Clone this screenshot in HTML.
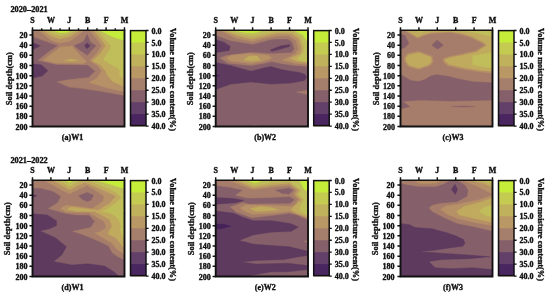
<!DOCTYPE html>
<html><head><meta charset="utf-8"><title>Soil moisture</title>
<style>html,body{margin:0;padding:0;background:#fff}body{width:550px;height:296px;overflow:hidden}svg{display:block}text{font-family:"Liberation Serif","Times New Roman",serif;font-weight:bold;fill:#111;stroke:#111;stroke-width:0.35px}</style></head><body>
<svg width="550" height="296" viewBox="0 0 550 296">
<rect width="550" height="296" fill="#fff"/>
<defs>
<clipPath id="cpa"><rect x="32.5" y="30.5" width="92.0" height="96"/></clipPath>
<clipPath id="cpb"><rect x="215.7" y="30.5" width="92.3" height="96"/></clipPath>
<clipPath id="cpc"><rect x="400.5" y="30.5" width="92.0" height="96"/></clipPath>
<clipPath id="cpd"><rect x="32.5" y="180.5" width="92.0" height="96"/></clipPath>
<clipPath id="cpe"><rect x="215.7" y="180.5" width="92.3" height="96"/></clipPath>
<clipPath id="cpf"><rect x="400.5" y="180.5" width="92.0" height="96"/></clipPath>
</defs>
<text x="10.4" y="11.8" font-size="8.3">2020–2021</text>
<text x="10.4" y="162.9" font-size="8.3">2021–2022</text>
<g clip-path="url(#cpa)">
<rect x="32.5" y="30.5" width="92.0" height="96" fill="#85606a"/>
<polygon points="32.5,30.5 32.5,36.3 42.6,40.3 58.1,45.5 47.2,53.0 38.0,60.3 56.4,64.4 87.8,64.9 95.3,71.2 88.4,77.6 66.0,80.1 57.0,81.8 69.0,87.1 82.7,88.6 101.0,91.3 124.5,95.5 124.5,30.5" fill="#a67c6a" stroke="#a67c6a" stroke-width="0.4"/>
<polygon points="38.6,30.5 51.3,40.2 60.0,43.2 70.0,41.0 79.0,34.5 84.0,30.5" fill="#b69066" stroke="#b69066" stroke-width="0.4"/>
<polygon points="89.5,30.5 96.0,38.0 101.6,45.8 97.0,53.0 89.5,60.8 97.5,65.5 101.5,71.2 97.0,78.0 89.0,82.6 106.5,87.7 124.5,91.9 124.5,30.5" fill="#b69066" stroke="#b69066" stroke-width="0.4"/>
<polygon points="60.5,47.0 72.0,46.0 79.0,54.0 86.5,61.5 84.0,63.4 56.5,63.2 43.0,60.2" fill="#b69066" stroke="#b69066" stroke-width="0.4"/>
<polygon points="42.6,30.5 52.0,36.5 60.0,39.0 70.0,36.5 79.4,30.5" fill="#c0aa5e" stroke="#c0aa5e" stroke-width="0.4"/>
<polygon points="93.6,30.5 100.0,38.0 105.6,45.8 100.0,54.0 92.5,60.9 100.4,64.9 106.0,71.5 106.5,74.0 112.0,81.3 124.5,86.8 124.5,30.5" fill="#c0aa5e" stroke="#c0aa5e" stroke-width="0.4"/>
<polygon points="64.3,60.3 71.0,59.0 78.5,60.3 71.0,61.6" fill="#c0aa5e" stroke="#c0aa5e" stroke-width="0.4"/>
<polygon points="46.0,30.5 54.0,34.0 60.0,35.8 68.0,34.0 76.5,30.5" fill="#bfbe5a" stroke="#bfbe5a" stroke-width="0.4"/>
<polygon points="97.0,30.5 104.0,38.0 110.8,45.8 109.6,50.0 103.5,59.8 109.6,63.8 116.5,67.2 120.0,70.7 119.4,75.8 124.5,78.1 124.5,30.5" fill="#bfbe5a" stroke="#bfbe5a" stroke-width="0.4"/>
<polygon points="53.0,30.5 60.0,32.7 66.0,32.4 71.0,30.5" fill="#c4ec3c" stroke="#c4ec3c" stroke-width="0.4"/>
<polygon points="100.4,30.5 111.9,36.6 124.5,40.5 124.5,30.5" fill="#c4ec3c" stroke="#c4ec3c" stroke-width="0.4"/>
<polygon points="87.2,34.3 90.5,42.0 96.1,45.8 91.0,51.0 87.4,55.3 81.0,51.0 74.3,45.8 83.5,41.5" fill="#85606a" stroke="#85606a" stroke-width="0.4"/>
<polygon points="87.2,42.9 90.1,45.8 87.2,48.7 84.3,45.8" fill="#5e3a5f" stroke="#5e3a5f" stroke-width="0.4"/>
<polygon points="32.5,42.4 32.5,49.8 40.3,45.8" fill="#5e3a5f" stroke="#5e3a5f" stroke-width="0.4"/>
<polygon points="32.5,63.8 41.5,64.9 47.8,70.7 42.6,75.8 32.5,78.1" fill="#5e3a5f" stroke="#5e3a5f" stroke-width="0.4"/>
</g>
<path d="M32.5 30.2 V126.5 H124.5 V30.2" fill="none" stroke="#111" stroke-width="1.9"/>
<path d="M31.7 30.2 H125.3" fill="none" stroke="#111" stroke-width="1.5"/>
<path d="M32.50 30.0V27.2M50.90 30.0V27.2M69.30 30.0V27.2M87.70 30.0V27.2M106.10 30.0V27.2M124.50 30.0V27.2M41.70 30.0V28.3M60.10 30.0V28.3M78.50 30.0V28.3M96.90 30.0V28.3M115.30 30.0V28.3M32.5 126.50H29.4M32.5 116.33H29.4M32.5 106.17H29.4M32.5 96.00H29.4M32.5 85.84H29.4M32.5 75.67H29.4M32.5 65.51H29.4M32.5 55.34H29.4M32.5 45.18H29.4M32.5 35.01H29.4" stroke="#111" stroke-width="1.45" fill="none"/>
<text x="32.5" y="23.1" font-size="8" text-anchor="middle">S</text>
<text x="50.9" y="23.1" font-size="8" text-anchor="middle">W</text>
<text x="69.3" y="23.1" font-size="8" text-anchor="middle">J</text>
<text x="87.7" y="23.1" font-size="8" text-anchor="middle">B</text>
<text x="106.1" y="23.1" font-size="8" text-anchor="middle">F</text>
<text x="124.5" y="23.1" font-size="8" text-anchor="middle">M</text>
<text x="27.5" y="129.5" font-size="8" text-anchor="end">200</text>
<text x="27.5" y="119.3" font-size="8" text-anchor="end">180</text>
<text x="27.5" y="109.2" font-size="8" text-anchor="end">160</text>
<text x="27.5" y="99.0" font-size="8" text-anchor="end">140</text>
<text x="27.5" y="88.8" font-size="8" text-anchor="end">120</text>
<text x="27.5" y="78.7" font-size="8" text-anchor="end">100</text>
<text x="27.5" y="68.5" font-size="8" text-anchor="end">80</text>
<text x="27.5" y="58.3" font-size="8" text-anchor="end">60</text>
<text x="27.5" y="48.2" font-size="8" text-anchor="end">40</text>
<text x="27.5" y="38.0" font-size="8" text-anchor="end">20</text>
<text transform="translate(12.4 78.7) rotate(-90)" font-size="8.3" letter-spacing="0.1" text-anchor="middle">Soil depth(cm)</text>
<text x="72.5" y="140.0" font-size="8" text-anchor="middle">(a)W1</text>
<rect x="130.5" y="30.5" width="15.5" height="95.6" fill="#c6ec3a"/>
<rect x="130.5" y="42.5" width="15.5" height="83.6" fill="#c3cc50"/>
<rect x="130.5" y="54.4" width="15.5" height="71.7" fill="#c0b25c"/>
<rect x="130.5" y="66.3" width="15.5" height="59.8" fill="#ba9866"/>
<rect x="130.5" y="78.3" width="15.5" height="47.8" fill="#a67e6c"/>
<rect x="130.5" y="90.2" width="15.5" height="35.8" fill="#85606a"/>
<rect x="130.5" y="102.2" width="15.5" height="23.9" fill="#62406a"/>
<rect x="130.5" y="114.1" width="15.5" height="12.0" fill="#4a2660"/>
<rect x="130.5" y="30.6" width="15.5" height="95" fill="none" stroke="#111" stroke-width="1.5"/>
<path d="M146.0 30.50h2.6M146.0 42.45h2.6M146.0 54.40h2.6M146.0 66.35h2.6M146.0 78.30h2.6M146.0 90.25h2.6M146.0 102.20h2.6M146.0 114.15h2.6M146.0 126.10h2.6" stroke="#111" stroke-width="1.3" fill="none"/>
<text x="151.5" y="33.5" font-size="8">0.0</text>
<text x="151.5" y="45.5" font-size="8">5.0</text>
<text x="151.5" y="57.4" font-size="8">10.0</text>
<text x="151.5" y="69.3" font-size="8">15.0</text>
<text x="151.5" y="81.3" font-size="8">20.0</text>
<text x="151.5" y="93.2" font-size="8">25.0</text>
<text x="151.5" y="105.2" font-size="8">30.0</text>
<text x="151.5" y="117.1" font-size="8">35.0</text>
<text x="151.5" y="129.1" font-size="8">40.0</text>
<text transform="translate(169.5 28.0) rotate(90)" font-size="8.3" textLength="103" lengthAdjust="spacingAndGlyphs">Volume moisture content(%)</text>
<g clip-path="url(#cpb)">
<rect x="215.7" y="30.5" width="92.3" height="96" fill="#85606a"/>
<polygon points="215.5,30.5 215.5,34.9 230.2,40.6 252.7,44.3 262.0,41.8 272.0,39.2 278.0,38.9 288.0,38.9 292.0,41.8 294.4,48.7 291.5,52.7 272.0,53.8 260.5,52.9 250.9,52.4 238.0,54.0 226.2,55.6 219.9,58.0 227.9,63.2 250.0,65.6 262.0,63.8 272.0,61.5 282.3,63.8 295.0,65.5 308.2,66.6 308.2,30.5" fill="#a67c6a" stroke="#a67c6a" stroke-width="0.4"/>
<polygon points="296.5,92.0 308.2,90.2 308.2,94.8" fill="#a67c6a" stroke="#a67c6a" stroke-width="0.4"/>
<polygon points="250.0,126.5 255.0,125.2 260.0,126.5" fill="#a67c6a" stroke="#a67c6a" stroke-width="0.4"/>
<polygon points="219.9,30.5 236.0,38.3 252.7,41.4 265.0,38.3 278.0,36.0 289.0,35.8 296.0,40.6 298.4,48.7 295.0,54.0 282.3,60.3 295.0,63.2 308.2,64.4 308.2,30.5" fill="#b69066" stroke="#b69066" stroke-width="0.4"/>
<polygon points="226.2,58.0 231.4,55.2 249.7,53.6 261.2,54.6 269.0,55.5 272.0,58.5 262.4,61.8 250.9,63.4 230.2,60.9" fill="#b69066" stroke="#b69066" stroke-width="0.4"/>
<polygon points="222.8,30.5 238.0,36.0 252.7,38.9 265.0,36.0 278.0,33.2 291.0,33.5 299.0,39.0 301.8,48.5 300.0,54.0 290.3,58.6 297.2,61.5 308.2,62.6 308.2,30.5" fill="#c0aa5e" stroke="#c0aa5e" stroke-width="0.4"/>
<polygon points="243.4,60.3 248.6,55.9 257.2,55.9 260.6,60.3 252.0,61.3" fill="#c0aa5e" stroke="#c0aa5e" stroke-width="0.4"/>
<polygon points="225.6,30.5 240.0,34.0 252.7,36.0 265.0,33.5 278.0,31.4 293.0,31.5 301.0,37.5 304.1,48.0 303.0,53.0 297.2,59.2 301.0,61.0 308.2,62.0 308.2,30.5" fill="#bfbe5a" stroke="#bfbe5a" stroke-width="0.4"/>
<polygon points="234.0,30.5 245.0,32.5 252.7,33.0 258.0,32.0 262.0,30.5" fill="#c4ec3c" stroke="#c4ec3c" stroke-width="0.4"/>
<polygon points="294.9,30.5 303.0,34.9 308.2,43.0 308.2,30.5" fill="#c4ec3c" stroke="#c4ec3c" stroke-width="0.4"/>
<polygon points="215.5,39.5 224.5,42.4 230.2,46.4 229.1,50.4 215.5,52.7" fill="#5e3a5f" stroke="#5e3a5f" stroke-width="0.4"/>
<polygon points="270.2,50.0 281.0,45.8 289.8,44.6 289.6,46.4 279.0,49.6 272.0,51.3" fill="#5e3a5f" stroke="#5e3a5f" stroke-width="0.4"/>
<polygon points="215.5,62.6 230.2,65.5 250.9,71.2 264.7,67.8 270.8,66.6 283.4,70.1 299.5,72.4 305.3,74.7 306.5,77.5 304.4,80.6 291.0,83.0 271.0,84.0 251.0,82.0 231.0,84.0 215.5,89.4" fill="#5e3a5f" stroke="#5e3a5f" stroke-width="0.4"/>
<polygon points="215.5,74.7 219.3,75.6 215.5,77.0" fill="#45225a" stroke="#45225a" stroke-width="0.4"/>
</g>
<path d="M215.7 30.2 V126.5 H308.0 V30.2" fill="none" stroke="#111" stroke-width="1.9"/>
<path d="M214.9 30.2 H308.8" fill="none" stroke="#111" stroke-width="1.5"/>
<path d="M215.70 30.0V27.2M234.16 30.0V27.2M252.62 30.0V27.2M271.08 30.0V27.2M289.54 30.0V27.2M308.00 30.0V27.2M215.7 126.50H212.6M215.7 116.33H212.6M215.7 106.17H212.6M215.7 96.00H212.6M215.7 85.84H212.6M215.7 75.67H212.6M215.7 65.51H212.6M215.7 55.34H212.6M215.7 45.18H212.6M215.7 35.01H212.6" stroke="#111" stroke-width="1.45" fill="none"/>
<text x="215.7" y="23.1" font-size="8" text-anchor="middle">S</text>
<text x="234.2" y="23.1" font-size="8" text-anchor="middle">W</text>
<text x="252.6" y="23.1" font-size="8" text-anchor="middle">J</text>
<text x="271.1" y="23.1" font-size="8" text-anchor="middle">B</text>
<text x="289.5" y="23.1" font-size="8" text-anchor="middle">F</text>
<text x="308.0" y="23.1" font-size="8" text-anchor="middle">M</text>
<text x="210.7" y="129.5" font-size="8" text-anchor="end">200</text>
<text x="210.7" y="119.3" font-size="8" text-anchor="end">180</text>
<text x="210.7" y="109.2" font-size="8" text-anchor="end">160</text>
<text x="210.7" y="99.0" font-size="8" text-anchor="end">140</text>
<text x="210.7" y="88.8" font-size="8" text-anchor="end">120</text>
<text x="210.7" y="78.7" font-size="8" text-anchor="end">100</text>
<text x="210.7" y="68.5" font-size="8" text-anchor="end">80</text>
<text x="210.7" y="58.3" font-size="8" text-anchor="end">60</text>
<text x="210.7" y="48.2" font-size="8" text-anchor="end">40</text>
<text x="210.7" y="38.0" font-size="8" text-anchor="end">20</text>
<text transform="translate(192.6 78.7) rotate(-90)" font-size="8.3" letter-spacing="0.1" text-anchor="middle">Soil depth(cm)</text>
<text x="265.2" y="140.0" font-size="8" text-anchor="middle">(b)W2</text>
<rect x="313.7" y="30.5" width="15.5" height="95.6" fill="#c6ec3a"/>
<rect x="313.7" y="42.5" width="15.5" height="83.6" fill="#c3cc50"/>
<rect x="313.7" y="54.4" width="15.5" height="71.7" fill="#c0b25c"/>
<rect x="313.7" y="66.3" width="15.5" height="59.8" fill="#ba9866"/>
<rect x="313.7" y="78.3" width="15.5" height="47.8" fill="#a67e6c"/>
<rect x="313.7" y="90.2" width="15.5" height="35.8" fill="#85606a"/>
<rect x="313.7" y="102.2" width="15.5" height="23.9" fill="#62406a"/>
<rect x="313.7" y="114.1" width="15.5" height="12.0" fill="#4a2660"/>
<rect x="313.7" y="30.6" width="15.5" height="95" fill="none" stroke="#111" stroke-width="1.5"/>
<path d="M329.2 30.50h2.6M329.2 42.45h2.6M329.2 54.40h2.6M329.2 66.35h2.6M329.2 78.30h2.6M329.2 90.25h2.6M329.2 102.20h2.6M329.2 114.15h2.6M329.2 126.10h2.6" stroke="#111" stroke-width="1.3" fill="none"/>
<text x="334.7" y="33.5" font-size="8">0.0</text>
<text x="334.7" y="45.5" font-size="8">5.0</text>
<text x="334.7" y="57.4" font-size="8">10.0</text>
<text x="334.7" y="69.3" font-size="8">15.0</text>
<text x="334.7" y="81.3" font-size="8">20.0</text>
<text x="334.7" y="93.2" font-size="8">25.0</text>
<text x="334.7" y="105.2" font-size="8">30.0</text>
<text x="334.7" y="117.1" font-size="8">35.0</text>
<text x="334.7" y="129.1" font-size="8">40.0</text>
<text transform="translate(352.7 28.0) rotate(90)" font-size="8.3" textLength="103" lengthAdjust="spacingAndGlyphs">Volume moisture content(%)</text>
<g clip-path="url(#cpc)">
<rect x="400.5" y="30.5" width="92.0" height="96" fill="#a67c6a"/>
<polygon points="400.5,33.7 404.9,35.5 408.9,43.5 404.9,47.5 400.5,49.2" fill="#85606a" stroke="#85606a" stroke-width="0.4"/>
<polygon points="431.9,45.2 437.0,40.1 443.4,45.2 437.6,49.2" fill="#85606a" stroke="#85606a" stroke-width="0.4"/>
<polygon points="400.5,74.7 404.9,77.0 410.6,80.4 418.7,81.6 425.6,79.3 431.3,75.8 437.0,74.7 448.5,76.4 460.0,79.2 472.6,81.7 492.5,82.8 492.5,100.1 450.7,101.0 419.7,100.1 400.5,101.4" fill="#85606a" stroke="#85606a" stroke-width="0.4"/>
<polygon points="400.5,101.0 404.0,102.5 409.7,106.5 400.5,108.9" fill="#85606a" stroke="#85606a" stroke-width="0.4"/>
<polygon points="451.7,106.5 463.0,105.9 475.4,106.5 463.0,107.1" fill="#85606a" stroke="#85606a" stroke-width="0.4"/>
<polygon points="400.5,124.8 408.0,126.5 400.5,126.5" fill="#85606a" stroke="#85606a" stroke-width="0.4"/>
<polygon points="404.5,30.5 417.5,38.6 424.4,35.6 431.3,33.4 450.0,32.6 460.4,34.6 470.5,37.6 482.8,43.5 484.8,45.3 475.6,50.9 460.4,54.3 450.2,56.2 443.2,58.4 443.0,61.2 447.0,65.6 462.7,69.2 479.9,72.0 492.5,73.2 492.5,30.5" fill="#b69066" stroke="#b69066" stroke-width="0.4"/>
<polygon points="404.3,57.5 407.6,53.6 418.7,51.3 432.3,56.3 433.1,61.8 429.8,65.8 418.7,69.6 408.1,66.4 404.8,61.8" fill="#b69066" stroke="#b69066" stroke-width="0.4"/>
<polygon points="406.5,30.5 417.5,37.0 424.4,34.2 431.3,32.2 451.0,31.6 461.5,33.2 471.5,36.2 484.5,42.8 486.8,45.3 476.5,52.0 461.0,55.6 451.0,57.4 445.2,59.2 445.2,60.9 448.8,64.3 462.7,67.4 479.9,70.2 492.5,71.4 492.5,30.5" fill="#c0aa5e" stroke="#c0aa5e" stroke-width="0.4"/>
<polygon points="406.0,57.6 408.6,54.9 418.7,52.8 430.9,57.1 431.5,61.4 428.7,64.6 418.7,68.0 409.2,65.2 406.4,61.4" fill="#c0aa5e" stroke="#c0aa5e" stroke-width="0.4"/>
<polygon points="415.2,30.5 421.0,32.3 426.7,30.5" fill="#bfbe5a" stroke="#bfbe5a" stroke-width="0.4"/>
<polygon points="463.0,30.5 480.7,34.1 492.5,36.7 492.5,30.5" fill="#bfbe5a" stroke="#bfbe5a" stroke-width="0.4"/>
<polygon points="472.3,55.7 492.5,52.6 492.5,68.4 472.8,64.9" fill="#bfbe5a" stroke="#bfbe5a" stroke-width="0.4"/>
</g>
<path d="M400.5 30.2 V126.5 H492.5 V30.2" fill="none" stroke="#111" stroke-width="1.9"/>
<path d="M399.7 30.2 H493.3" fill="none" stroke="#111" stroke-width="1.5"/>
<path d="M400.50 30.0V27.2M418.90 30.0V27.2M437.30 30.0V27.2M455.70 30.0V27.2M474.10 30.0V27.2M492.50 30.0V27.2M400.5 126.50H397.4M400.5 116.33H397.4M400.5 106.17H397.4M400.5 96.00H397.4M400.5 85.84H397.4M400.5 75.67H397.4M400.5 65.51H397.4M400.5 55.34H397.4M400.5 45.18H397.4M400.5 35.01H397.4" stroke="#111" stroke-width="1.45" fill="none"/>
<text x="400.5" y="23.1" font-size="8" text-anchor="middle">S</text>
<text x="418.9" y="23.1" font-size="8" text-anchor="middle">W</text>
<text x="437.3" y="23.1" font-size="8" text-anchor="middle">J</text>
<text x="455.7" y="23.1" font-size="8" text-anchor="middle">B</text>
<text x="474.1" y="23.1" font-size="8" text-anchor="middle">F</text>
<text x="492.5" y="23.1" font-size="8" text-anchor="middle">M</text>
<text x="395.0" y="129.5" font-size="8" text-anchor="end">200</text>
<text x="395.0" y="119.3" font-size="8" text-anchor="end">180</text>
<text x="395.0" y="109.2" font-size="8" text-anchor="end">160</text>
<text x="395.0" y="99.0" font-size="8" text-anchor="end">140</text>
<text x="395.0" y="88.8" font-size="8" text-anchor="end">120</text>
<text x="395.0" y="78.7" font-size="8" text-anchor="end">100</text>
<text x="395.0" y="68.5" font-size="8" text-anchor="end">80</text>
<text x="395.0" y="58.3" font-size="8" text-anchor="end">60</text>
<text x="395.0" y="48.2" font-size="8" text-anchor="end">40</text>
<text x="395.0" y="38.0" font-size="8" text-anchor="end">20</text>
<text transform="translate(378.9 78.7) rotate(-90)" font-size="8.3" letter-spacing="0.1" text-anchor="middle">Soil depth(cm)</text>
<text x="453.0" y="140.0" font-size="8" text-anchor="middle">(c)W3</text>
<rect x="498.5" y="30.5" width="15.5" height="95.6" fill="#c6ec3a"/>
<rect x="498.5" y="42.5" width="15.5" height="83.6" fill="#c3cc50"/>
<rect x="498.5" y="54.4" width="15.5" height="71.7" fill="#c0b25c"/>
<rect x="498.5" y="66.3" width="15.5" height="59.8" fill="#ba9866"/>
<rect x="498.5" y="78.3" width="15.5" height="47.8" fill="#a67e6c"/>
<rect x="498.5" y="90.2" width="15.5" height="35.8" fill="#85606a"/>
<rect x="498.5" y="102.2" width="15.5" height="23.9" fill="#62406a"/>
<rect x="498.5" y="114.1" width="15.5" height="12.0" fill="#4a2660"/>
<rect x="498.5" y="30.6" width="15.5" height="95" fill="none" stroke="#111" stroke-width="1.5"/>
<path d="M514.0 30.50h2.6M514.0 42.45h2.6M514.0 54.40h2.6M514.0 66.35h2.6M514.0 78.30h2.6M514.0 90.25h2.6M514.0 102.20h2.6M514.0 114.15h2.6M514.0 126.10h2.6" stroke="#111" stroke-width="1.3" fill="none"/>
<text x="519.5" y="33.5" font-size="8">0.0</text>
<text x="519.5" y="45.5" font-size="8">5.0</text>
<text x="519.5" y="57.4" font-size="8">10.0</text>
<text x="519.5" y="69.3" font-size="8">15.0</text>
<text x="519.5" y="81.3" font-size="8">20.0</text>
<text x="519.5" y="93.2" font-size="8">25.0</text>
<text x="519.5" y="105.2" font-size="8">30.0</text>
<text x="519.5" y="117.1" font-size="8">35.0</text>
<text x="519.5" y="129.1" font-size="8">40.0</text>
<text transform="translate(537.5 28.0) rotate(90)" font-size="8.3" textLength="103" lengthAdjust="spacingAndGlyphs">Volume moisture content(%)</text>
<g clip-path="url(#cpd)">
<rect x="32.5" y="180.5" width="92.0" height="96" fill="#85606a"/>
<polygon points="32.5,180.5 32.5,187.8 41.5,188.3 53.0,191.2 61.0,196.4 57.6,202.7 48.4,208.6 64.4,213.2 75.9,214.9 89.0,214.9 94.7,221.2 90.7,227.6 72.9,231.2 89.0,236.9 100.4,242.1 108.5,246.1 112.0,252.4 116.5,255.9 124.5,260.0 124.5,180.5" fill="#a67c6a" stroke="#a67c6a" stroke-width="0.4"/>
<polygon points="44.9,180.5 62.1,190.6 69.6,193.7 78.0,189.8 87.2,185.5 97.2,191.4 103.9,196.2 103.2,201.1 92.3,208.6 77.5,206.3 66.0,205.3 60.0,208.5 66.0,212.3 89.0,212.8 103.9,221.2 106.2,227.6 100.4,231.5 94.7,232.9 103.9,238.6 112.0,243.2 116.5,249.0 124.5,254.7 124.5,180.5" fill="#b69066" stroke="#b69066" stroke-width="0.4"/>
<polygon points="53.0,180.5 69.6,190.1 79.0,185.0 85.0,182.3 103.2,190.2 116.0,196.2 109.3,203.5 98.4,210.3 90.0,209.3 71.3,207.1 66.7,209.2 75.9,211.5 94.7,211.6 109.6,219.5 112.0,226.4 109.6,230.0 107.9,234.0 116.5,238.6 121.1,244.4 124.5,249.0 124.5,180.5" fill="#c0aa5e" stroke="#c0aa5e" stroke-width="0.4"/>
<polygon points="58.7,180.5 69.6,186.6 79.4,180.5" fill="#bfbe5a" stroke="#bfbe5a" stroke-width="0.4"/>
<polygon points="88.6,180.5 103.2,186.5 116.6,192.6 121.5,197.5 115.4,203.5 106.9,209.6 102.0,211.0 112.0,213.8 118.8,219.5 121.1,226.4 120.0,230.0 121.1,232.9 124.5,238.6 124.5,180.5" fill="#bfbe5a" stroke="#bfbe5a" stroke-width="0.4"/>
<polygon points="66.0,180.5 69.6,182.4 73.2,180.5" fill="#c4ec3c" stroke="#c4ec3c" stroke-width="0.4"/>
<polygon points="97.0,180.5 111.0,184.6 124.5,188.8 124.5,180.5" fill="#c4ec3c" stroke="#c4ec3c" stroke-width="0.4"/>
<polygon points="124.5,209.3 122.6,210.5 124.5,211.7" fill="#c4ec3c" stroke="#c4ec3c" stroke-width="0.4"/>
<polygon points="78.6,195.8 87.2,192.4 93.6,195.2 90.7,200.4 87.2,201.5 82.0,199.2" fill="#85606a" stroke="#85606a" stroke-width="0.4"/>
<polygon points="32.5,194.1 36.9,195.8 32.5,197.5" fill="#5e3a5f" stroke="#5e3a5f" stroke-width="0.4"/>
<polygon points="32.5,213.8 47.2,214.9 56.4,220.7 56.6,225.5 50.0,228.5 39.9,230.9 55.4,237.7 66.3,246.8 61.8,255.0 53.5,261.4 71.8,265.1 88.2,263.8 104.6,266.0 113.8,271.8 119.2,276.5 32.5,276.5" fill="#5e3a5f" stroke="#5e3a5f" stroke-width="0.4"/>
</g>
<path d="M32.5 180.2 V276.5 H124.5 V180.2" fill="none" stroke="#111" stroke-width="1.9"/>
<path d="M31.7 180.2 H125.3" fill="none" stroke="#111" stroke-width="1.5"/>
<path d="M32.50 180.0V177.2M50.90 180.0V177.2M69.30 180.0V177.2M87.70 180.0V177.2M106.10 180.0V177.2M124.50 180.0V177.2M32.5 276.50H29.4M32.5 266.33H29.4M32.5 256.17H29.4M32.5 246.00H29.4M32.5 235.84H29.4M32.5 225.67H29.4M32.5 215.51H29.4M32.5 205.34H29.4M32.5 195.18H29.4M32.5 185.01H29.4" stroke="#111" stroke-width="1.45" fill="none"/>
<text x="32.5" y="173.1" font-size="8" text-anchor="middle">S</text>
<text x="50.9" y="173.1" font-size="8" text-anchor="middle">W</text>
<text x="69.3" y="173.1" font-size="8" text-anchor="middle">J</text>
<text x="87.7" y="173.1" font-size="8" text-anchor="middle">B</text>
<text x="106.1" y="173.1" font-size="8" text-anchor="middle">F</text>
<text x="124.5" y="173.1" font-size="8" text-anchor="middle">M</text>
<text x="27.4" y="279.5" font-size="8" text-anchor="end">200</text>
<text x="27.4" y="269.3" font-size="8" text-anchor="end">180</text>
<text x="27.4" y="259.2" font-size="8" text-anchor="end">160</text>
<text x="27.4" y="249.0" font-size="8" text-anchor="end">140</text>
<text x="27.4" y="238.8" font-size="8" text-anchor="end">120</text>
<text x="27.4" y="228.7" font-size="8" text-anchor="end">100</text>
<text x="27.4" y="218.5" font-size="8" text-anchor="end">80</text>
<text x="27.4" y="208.3" font-size="8" text-anchor="end">60</text>
<text x="27.4" y="198.2" font-size="8" text-anchor="end">40</text>
<text x="27.4" y="188.0" font-size="8" text-anchor="end">20</text>
<text transform="translate(10.1 228.7) rotate(-90)" font-size="8.3" letter-spacing="0.1" text-anchor="middle">Soil depth(cm)</text>
<text x="72.5" y="290.0" font-size="8" text-anchor="middle">(d)W1</text>
<rect x="130.5" y="180.5" width="15.5" height="95.6" fill="#c6ec3a"/>
<rect x="130.5" y="192.4" width="15.5" height="83.6" fill="#c3cc50"/>
<rect x="130.5" y="204.4" width="15.5" height="71.7" fill="#c0b25c"/>
<rect x="130.5" y="216.3" width="15.5" height="59.8" fill="#ba9866"/>
<rect x="130.5" y="228.3" width="15.5" height="47.8" fill="#a67e6c"/>
<rect x="130.5" y="240.2" width="15.5" height="35.8" fill="#85606a"/>
<rect x="130.5" y="252.2" width="15.5" height="23.9" fill="#62406a"/>
<rect x="130.5" y="264.1" width="15.5" height="12.0" fill="#4a2660"/>
<rect x="130.5" y="180.6" width="15.5" height="95" fill="none" stroke="#111" stroke-width="1.5"/>
<path d="M146.0 180.50h2.6M146.0 192.45h2.6M146.0 204.40h2.6M146.0 216.35h2.6M146.0 228.30h2.6M146.0 240.25h2.6M146.0 252.20h2.6M146.0 264.15h2.6M146.0 276.10h2.6" stroke="#111" stroke-width="1.3" fill="none"/>
<text x="151.5" y="183.5" font-size="8">0.0</text>
<text x="151.5" y="195.4" font-size="8">5.0</text>
<text x="151.5" y="207.4" font-size="8">10.0</text>
<text x="151.5" y="219.3" font-size="8">15.0</text>
<text x="151.5" y="231.3" font-size="8">20.0</text>
<text x="151.5" y="243.2" font-size="8">25.0</text>
<text x="151.5" y="255.2" font-size="8">30.0</text>
<text x="151.5" y="267.1" font-size="8">35.0</text>
<text x="151.5" y="279.1" font-size="8">40.0</text>
<text transform="translate(169.5 178.0) rotate(90)" font-size="8.3" textLength="103" lengthAdjust="spacingAndGlyphs">Volume moisture content(%)</text>
<g clip-path="url(#cpe)">
<rect x="215.7" y="180.5" width="92.3" height="96" fill="#85606a"/>
<polygon points="215.5,180.5 215.5,185.4 230.2,187.2 242.8,190.1 235.4,195.2 247.4,198.1 272.0,197.5 289.2,196.4 294.9,199.8 289.8,203.8 272.0,203.8 249.0,204.2 242.8,202.5 230.2,206.9 236.0,212.0 252.0,217.8 272.0,215.5 289.2,213.2 297.2,214.9 308.2,220.1 308.2,180.5" fill="#a67c6a" stroke="#a67c6a" stroke-width="0.4"/>
<polygon points="304.0,241.3 308.2,240.4 308.2,242.4" fill="#a67c6a" stroke="#a67c6a" stroke-width="0.4"/>
<polygon points="228.0,180.5 253.2,189.5 272.0,187.2 289.2,185.5 296.1,190.1 293.2,194.6 298.4,199.2 294.9,204.4 290.3,206.5 272.0,205.5 254.7,205.0 246.3,204.8 240.0,208.0 245.1,211.5 253.2,214.4 275.0,213.2 289.0,211.6 296.0,213.8 308.2,218.6 308.2,180.5" fill="#b69066" stroke="#b69066" stroke-width="0.4"/>
<polygon points="236.0,180.5 253.2,187.8 272.0,184.9 289.2,183.2 298.9,190.1 296.1,194.6 301.2,199.8 297.2,203.4 290.9,209.8 294.9,212.6 308.2,217.2 308.2,180.5" fill="#c0aa5e" stroke="#c0aa5e" stroke-width="0.4"/>
<polygon points="250.3,208.6 260.5,206.3 270.0,207.3 278.9,209.8 270.0,210.8 260.5,211.5 255.5,211.3" fill="#c0aa5e" stroke="#c0aa5e" stroke-width="0.4"/>
<polygon points="241.7,180.5 253.2,185.5 272.0,182.6 289.2,181.4 301.2,190.1 298.9,194.6 304.1,199.8 300.5,205.0 299.5,210.3 303.0,213.0 308.2,215.5 308.2,180.5" fill="#bfbe5a" stroke="#bfbe5a" stroke-width="0.4"/>
<polygon points="247.4,180.5 255.0,183.1 262.4,180.5" fill="#c4ec3c" stroke="#c4ec3c" stroke-width="0.4"/>
<polygon points="299.5,180.5 304.3,189.5 308.2,191.0 308.2,180.5" fill="#c4ec3c" stroke="#c4ec3c" stroke-width="0.4"/>
<polygon points="275.4,190.1 289.2,188.3 293.2,190.1 289.2,194.1 282.3,193.5" fill="#85606a" stroke="#85606a" stroke-width="0.4"/>
<polygon points="215.5,197.5 233.7,198.4 244.0,200.4 236.0,202.7 215.5,204.2" fill="#5e3a5f" stroke="#5e3a5f" stroke-width="0.4"/>
<polygon points="215.5,210.9 233.7,213.2 242.8,217.2 253.2,220.7 272.0,220.7 290.3,223.5 298.4,227.0 291.3,231.3 271.2,232.2 253.0,235.0 239.3,240.4 253.0,244.1 271.2,245.5 289.5,246.8 308.2,251.4 308.2,255.4 298.6,256.8 284.0,259.6 256.6,260.5 241.1,262.0 256.6,264.1 287.6,263.2 308.2,265.6 308.2,269.6 287.6,271.8 271.2,271.8 245.7,276.5 215.5,276.5" fill="#5e3a5f" stroke="#5e3a5f" stroke-width="0.4"/>
<polygon points="215.5,224.1 225.0,224.6 230.8,226.2 222.0,228.5 215.5,229.3" fill="#45225a" stroke="#45225a" stroke-width="0.4"/>
</g>
<path d="M215.7 180.2 V276.5 H308.0 V180.2" fill="none" stroke="#111" stroke-width="1.9"/>
<path d="M214.9 180.2 H308.8" fill="none" stroke="#111" stroke-width="1.5"/>
<path d="M215.70 180.0V177.2M234.16 180.0V177.2M252.62 180.0V177.2M271.08 180.0V177.2M289.54 180.0V177.2M308.00 180.0V177.2M215.7 276.50H212.6M215.7 266.33H212.6M215.7 256.17H212.6M215.7 246.00H212.6M215.7 235.84H212.6M215.7 225.67H212.6M215.7 215.51H212.6M215.7 205.34H212.6M215.7 195.18H212.6M215.7 185.01H212.6" stroke="#111" stroke-width="1.45" fill="none"/>
<text x="215.7" y="173.1" font-size="8" text-anchor="middle">S</text>
<text x="234.2" y="173.1" font-size="8" text-anchor="middle">W</text>
<text x="252.6" y="173.1" font-size="8" text-anchor="middle">J</text>
<text x="271.1" y="173.1" font-size="8" text-anchor="middle">B</text>
<text x="289.5" y="173.1" font-size="8" text-anchor="middle">F</text>
<text x="308.0" y="173.1" font-size="8" text-anchor="middle">M</text>
<text x="210.7" y="279.5" font-size="8" text-anchor="end">200</text>
<text x="210.7" y="269.3" font-size="8" text-anchor="end">180</text>
<text x="210.7" y="259.2" font-size="8" text-anchor="end">160</text>
<text x="210.7" y="249.0" font-size="8" text-anchor="end">140</text>
<text x="210.7" y="238.8" font-size="8" text-anchor="end">120</text>
<text x="210.7" y="228.7" font-size="8" text-anchor="end">100</text>
<text x="210.7" y="218.5" font-size="8" text-anchor="end">80</text>
<text x="210.7" y="208.3" font-size="8" text-anchor="end">60</text>
<text x="210.7" y="198.2" font-size="8" text-anchor="end">40</text>
<text x="210.7" y="188.0" font-size="8" text-anchor="end">20</text>
<text transform="translate(193.6 228.7) rotate(-90)" font-size="8.3" letter-spacing="0.1" text-anchor="middle">Soil depth(cm)</text>
<text x="265.2" y="290.0" font-size="8" text-anchor="middle">(e)W2</text>
<rect x="313.7" y="180.5" width="15.5" height="95.6" fill="#c6ec3a"/>
<rect x="313.7" y="192.4" width="15.5" height="83.6" fill="#c3cc50"/>
<rect x="313.7" y="204.4" width="15.5" height="71.7" fill="#c0b25c"/>
<rect x="313.7" y="216.3" width="15.5" height="59.8" fill="#ba9866"/>
<rect x="313.7" y="228.3" width="15.5" height="47.8" fill="#a67e6c"/>
<rect x="313.7" y="240.2" width="15.5" height="35.8" fill="#85606a"/>
<rect x="313.7" y="252.2" width="15.5" height="23.9" fill="#62406a"/>
<rect x="313.7" y="264.1" width="15.5" height="12.0" fill="#4a2660"/>
<rect x="313.7" y="180.6" width="15.5" height="95" fill="none" stroke="#111" stroke-width="1.5"/>
<path d="M329.2 180.50h2.6M329.2 192.45h2.6M329.2 204.40h2.6M329.2 216.35h2.6M329.2 228.30h2.6M329.2 240.25h2.6M329.2 252.20h2.6M329.2 264.15h2.6M329.2 276.10h2.6" stroke="#111" stroke-width="1.3" fill="none"/>
<text x="334.7" y="183.5" font-size="8">0.0</text>
<text x="334.7" y="195.4" font-size="8">5.0</text>
<text x="334.7" y="207.4" font-size="8">10.0</text>
<text x="334.7" y="219.3" font-size="8">15.0</text>
<text x="334.7" y="231.3" font-size="8">20.0</text>
<text x="334.7" y="243.2" font-size="8">25.0</text>
<text x="334.7" y="255.2" font-size="8">30.0</text>
<text x="334.7" y="267.1" font-size="8">35.0</text>
<text x="334.7" y="279.1" font-size="8">40.0</text>
<text transform="translate(352.7 178.0) rotate(90)" font-size="8.3" textLength="103" lengthAdjust="spacingAndGlyphs">Volume moisture content(%)</text>
<g clip-path="url(#cpf)">
<rect x="400.5" y="180.5" width="92.0" height="96" fill="#85606a"/>
<polygon points="400.5,180.5 400.5,183.2 409.5,184.9 418.7,186.6 435.9,186.6 443.9,183.7 448.5,181.2 453.0,180.5" fill="#a67c6a" stroke="#a67c6a" stroke-width="0.4"/>
<polygon points="457.5,180.5 465.0,184.9 468.4,190.6 467.3,196.4 457.0,202.1 445.5,202.9 438.2,203.8 432.4,205.2 429.0,208.0 432.4,211.5 443.9,217.5 457.0,223.3 474.2,226.8 492.5,231.0 492.5,180.5" fill="#a67c6a" stroke="#a67c6a" stroke-width="0.4"/>
<polygon points="412.9,180.5 421.0,183.7 435.9,183.2 441.6,180.5" fill="#b69066" stroke="#b69066" stroke-width="0.4"/>
<polygon points="462.7,180.5 474.2,184.9 488.0,191.8 492.5,194.1 492.5,180.5" fill="#b69066" stroke="#b69066" stroke-width="0.4"/>
<polygon points="492.5,195.0 480.0,199.6 468.4,202.0 457.0,204.3 446.2,205.7 440.5,209.2 446.2,213.8 457.0,218.4 474.2,222.4 492.5,225.8" fill="#b69066" stroke="#b69066" stroke-width="0.4"/>
<polygon points="471.9,180.5 484.5,183.7 492.5,187.2 492.5,180.5" fill="#c0aa5e" stroke="#c0aa5e" stroke-width="0.4"/>
<polygon points="492.5,198.1 479.9,202.2 463.9,206.5 456.4,211.5 459.3,214.9 474.2,218.4 492.5,222.4" fill="#c0aa5e" stroke="#c0aa5e" stroke-width="0.4"/>
<polygon points="482.2,180.5 492.5,183.7 492.5,180.5" fill="#bfbe5a" stroke="#bfbe5a" stroke-width="0.4"/>
<polygon points="492.5,205.2 484.5,206.9 478.8,211.5 484.5,214.9 492.5,217.2" fill="#bfbe5a" stroke="#bfbe5a" stroke-width="0.4"/>
<polygon points="451.3,189.5 455.0,184.3 457.6,189.5 455.3,194.6" fill="#5e3a5f" stroke="#5e3a5f" stroke-width="0.4"/>
<polygon points="400.5,223.5 409.5,224.7 415.2,227.6 432.4,228.7 438.2,230.5 445.3,232.2 456.2,235.9 463.5,239.5 465.0,243.2 462.6,246.3 450.7,247.7 432.5,250.5 418.8,251.4 441.6,253.2 469.0,255.0 490.0,256.8 469.0,258.7 441.6,259.6 428.8,261.6 435.2,267.8 450.7,268.7 472.6,267.8 492.5,269.6 492.5,276.5 400.5,276.5" fill="#5e3a5f" stroke="#5e3a5f" stroke-width="0.4"/>
</g>
<path d="M400.5 180.2 V276.5 H492.5 V180.2" fill="none" stroke="#111" stroke-width="1.9"/>
<path d="M399.7 180.2 H493.3" fill="none" stroke="#111" stroke-width="1.5"/>
<path d="M400.50 180.0V177.2M418.90 180.0V177.2M437.30 180.0V177.2M455.70 180.0V177.2M474.10 180.0V177.2M492.50 180.0V177.2M400.5 276.50H397.4M400.5 266.33H397.4M400.5 256.17H397.4M400.5 246.00H397.4M400.5 235.84H397.4M400.5 225.67H397.4M400.5 215.51H397.4M400.5 205.34H397.4M400.5 195.18H397.4M400.5 185.01H397.4" stroke="#111" stroke-width="1.45" fill="none"/>
<text x="400.5" y="173.1" font-size="8" text-anchor="middle">S</text>
<text x="418.9" y="173.1" font-size="8" text-anchor="middle">W</text>
<text x="437.3" y="173.1" font-size="8" text-anchor="middle">J</text>
<text x="455.7" y="173.1" font-size="8" text-anchor="middle">B</text>
<text x="474.1" y="173.1" font-size="8" text-anchor="middle">F</text>
<text x="492.5" y="173.1" font-size="8" text-anchor="middle">M</text>
<text x="394.6" y="279.5" font-size="8" text-anchor="end">200</text>
<text x="394.6" y="269.3" font-size="8" text-anchor="end">180</text>
<text x="394.6" y="259.2" font-size="8" text-anchor="end">160</text>
<text x="394.6" y="249.0" font-size="8" text-anchor="end">140</text>
<text x="394.6" y="238.8" font-size="8" text-anchor="end">120</text>
<text x="394.6" y="228.7" font-size="8" text-anchor="end">100</text>
<text x="394.6" y="218.5" font-size="8" text-anchor="end">80</text>
<text x="394.6" y="208.3" font-size="8" text-anchor="end">60</text>
<text x="394.6" y="198.2" font-size="8" text-anchor="end">40</text>
<text x="394.6" y="188.0" font-size="8" text-anchor="end">20</text>
<text transform="translate(377.8 228.7) rotate(-90)" font-size="8.3" letter-spacing="0.1" text-anchor="middle">Soil depth(cm)</text>
<text x="453.0" y="290.0" font-size="8" text-anchor="middle">(f)W3</text>
<rect x="498.5" y="180.5" width="15.5" height="95.6" fill="#c6ec3a"/>
<rect x="498.5" y="192.4" width="15.5" height="83.6" fill="#c3cc50"/>
<rect x="498.5" y="204.4" width="15.5" height="71.7" fill="#c0b25c"/>
<rect x="498.5" y="216.3" width="15.5" height="59.8" fill="#ba9866"/>
<rect x="498.5" y="228.3" width="15.5" height="47.8" fill="#a67e6c"/>
<rect x="498.5" y="240.2" width="15.5" height="35.8" fill="#85606a"/>
<rect x="498.5" y="252.2" width="15.5" height="23.9" fill="#62406a"/>
<rect x="498.5" y="264.1" width="15.5" height="12.0" fill="#4a2660"/>
<rect x="498.5" y="180.6" width="15.5" height="95" fill="none" stroke="#111" stroke-width="1.5"/>
<path d="M514.0 180.50h2.6M514.0 192.45h2.6M514.0 204.40h2.6M514.0 216.35h2.6M514.0 228.30h2.6M514.0 240.25h2.6M514.0 252.20h2.6M514.0 264.15h2.6M514.0 276.10h2.6" stroke="#111" stroke-width="1.3" fill="none"/>
<text x="519.5" y="183.5" font-size="8">0.0</text>
<text x="519.5" y="195.4" font-size="8">5.0</text>
<text x="519.5" y="207.4" font-size="8">10.0</text>
<text x="519.5" y="219.3" font-size="8">15.0</text>
<text x="519.5" y="231.3" font-size="8">20.0</text>
<text x="519.5" y="243.2" font-size="8">25.0</text>
<text x="519.5" y="255.2" font-size="8">30.0</text>
<text x="519.5" y="267.1" font-size="8">35.0</text>
<text x="519.5" y="279.1" font-size="8">40.0</text>
<text transform="translate(537.5 178.0) rotate(90)" font-size="8.3" textLength="103" lengthAdjust="spacingAndGlyphs">Volume moisture content(%)</text>
</svg></body></html>
